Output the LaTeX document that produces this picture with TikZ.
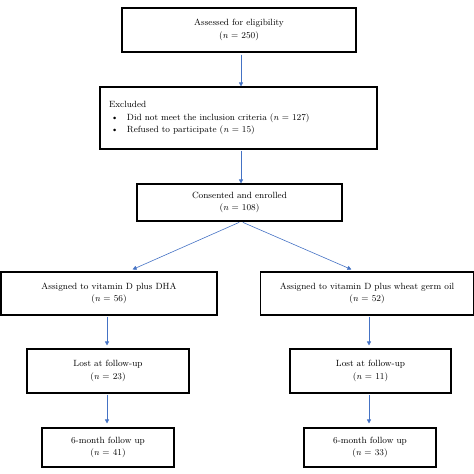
\documentclass[tikz,border=0pt]{standalone}
\usepackage{xcolor}
\usepackage{tikz}
\usetikzlibrary{arrows.meta}
\definecolor{arrowblue}{HTML}{4472C4}

\begin{document}
\begin{tikzpicture}[
   x=1pt, y=1pt,
   every node/.append style={font=\fontsize{9}{12.5}\selectfont},
   flowbox/.style={draw=black, line width=1.1pt, align=center, inner sep=0pt},
   flowarrow/.style={draw=arrowblue, line width=0.6pt, -{Triangle[length=4pt,width=4pt]}}
]
\useasboundingbox (0,0) rectangle (474,-474);

\node[flowbox, minimum width=234, minimum height=44] (assess) at (239,-30)
  {Assessed for eligibility\\(\textit{n} = 250)};
\node[flowbox, minimum width=277, minimum height=62, text width=259, align=left] (excl) at (238.5,-118)
  {Excluded\\
   \makebox[18pt][l]{\hspace{2pt}\textbullet}Did not meet the inclusion criteria (\textit{n} = 127)\\
   \makebox[18pt][l]{\hspace{2pt}\textbullet}Refused to participate (\textit{n} = 15)};
\node[flowbox, minimum width=205, minimum height=37] (consent) at (239.5,-202.5)
  {Consented and enrolled\\(\textit{n} = 108)};

\node[flowbox, minimum width=216, minimum height=43] (armdha) at (109,-293.5)
  {Assigned to vitamin D plus DHA\\(\textit{n} = 56)};
\node[flowbox, minimum width=213, minimum height=43] (armwgo) at (367,-293.5)
  {Assigned to vitamin D plus wheat germ oil\\(\textit{n} = 52)};

\node[flowbox, minimum width=162, minimum height=44] (lostdha) at (108,-371)
  {Lost at follow-up\\(\textit{n} = 23)};
\node[flowbox, minimum width=161, minimum height=44] (lostwgo) at (370.5,-371)
  {Lost at follow-up\\(\textit{n} = 11)};

\node[flowbox, minimum width=132, minimum height=39] (fudha) at (108,-447.5)
  {6-month follow up\\(\textit{n} = 41)};
\node[flowbox, minimum width=132, minimum height=39] (fuwgo) at (370,-447.5)
  {6-month follow up\\(\textit{n} = 33)};

\draw[flowarrow, shorten <=2pt] ([xshift=2pt]assess.south) -- ([xshift=2.5pt]excl.north);
\draw[flowarrow, shorten <=1pt] ([xshift=2.5pt]excl.south) -- ([xshift=1.5pt]consent.north);
\draw[flowarrow, shorten <=2pt, shorten >=5pt] ([xshift=1.5pt]consent.south) -- ([xshift=19pt]armdha.north);
\draw[flowarrow, shorten <=2pt, shorten >=5pt] ([xshift=1.5pt]consent.south) -- ([xshift=-11pt]armwgo.north);
\draw[flowarrow, shorten <=1pt, shorten >=3pt] ([xshift=-2pt]armdha.south) -- ([xshift=-1pt]lostdha.north);
\draw[flowarrow, shorten <=1pt, shorten >=3pt] ([xshift=2pt]armwgo.south) -- ([xshift=-1.5pt]lostwgo.north);
\draw[flowarrow, shorten <=1pt, shorten >=4pt] ([xshift=-1pt]lostdha.south) -- ([xshift=-1pt]fudha.north);
\draw[flowarrow, shorten <=1pt, shorten >=4pt] ([xshift=-1.5pt]lostwgo.south) -- ([xshift=-1pt]fuwgo.north);
\end{tikzpicture}
\end{document}
